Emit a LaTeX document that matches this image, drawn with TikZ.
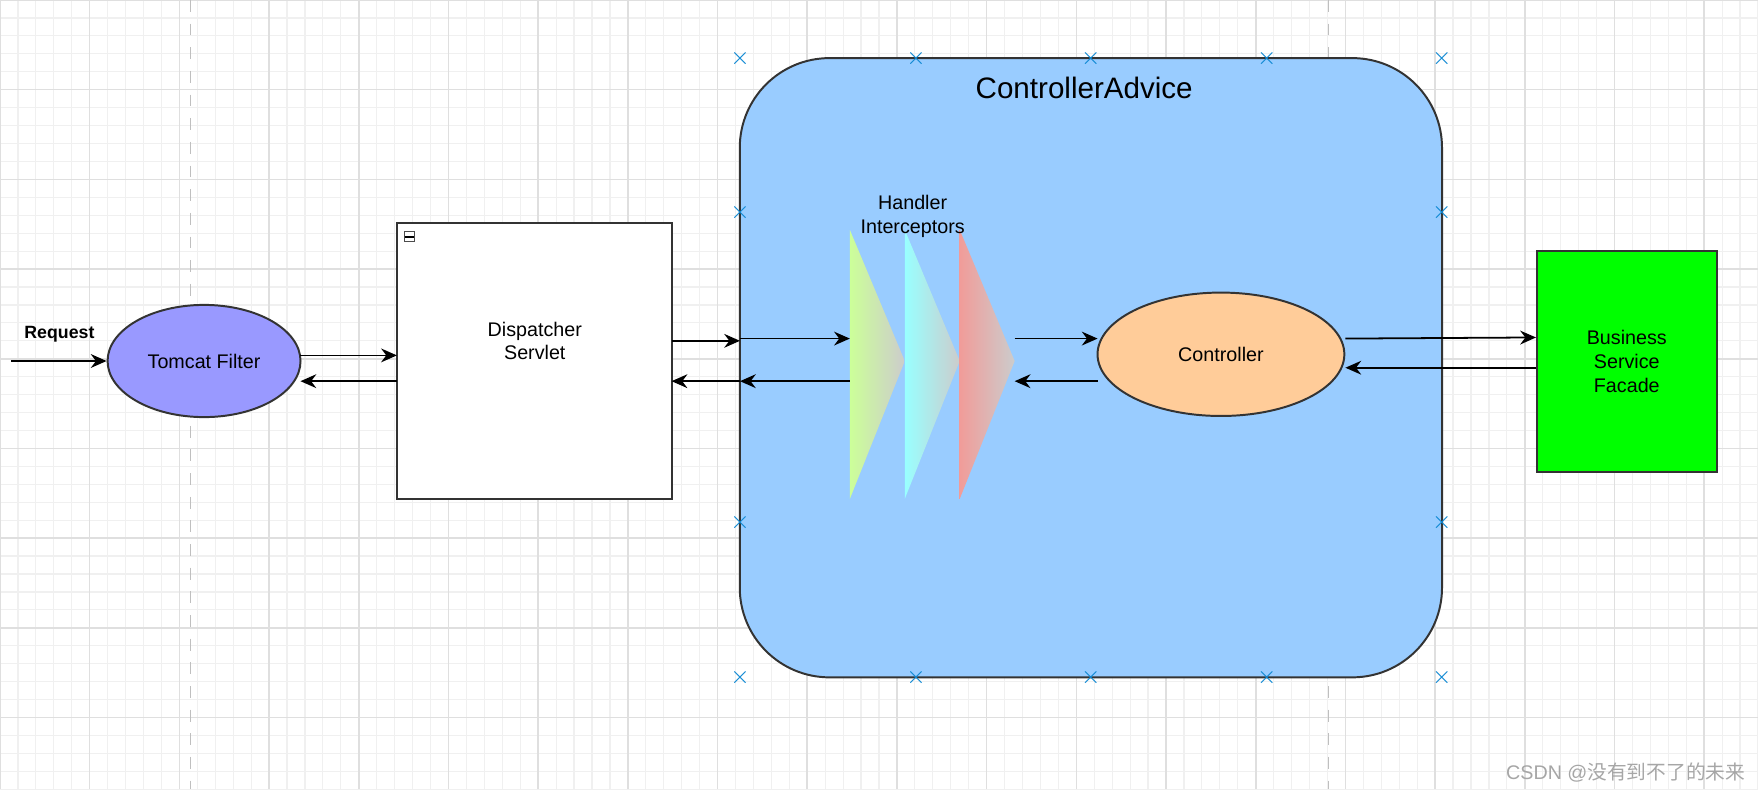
\documentclass[tikz,border=0pt]{standalone}
\usepackage{fontspec}
\setmainfont{Liberation Sans}
\newfontfamily\cjk{Noto Sans CJK SC}
\usetikzlibrary{shapes.geometric,arrows.meta}
\begin{document}
\begin{tikzpicture}[x=0.01cm,y=-0.01cm,
  arr/.style={-{Stealth[length=4pt,width=3.5pt]},line width=0.45pt},
  lbl/.style={font=\fontsize{5pt}{6pt}\selectfont,align=center},
  mk/.style={text=cyan!70!blue,font=\fontsize{4pt}{4pt}\selectfont}]
\useasboundingbox (0,0) rectangle (1568,704);
\fill[white] (0,0) rectangle (1568,704);
\foreach \x in {0,16,...,1568} \draw[gray!12,line width=0.3pt] (\x,0)--(\x,704);
\foreach \y in {0,16,...,704} \draw[gray!12,line width=0.3pt] (0,\y)--(1568,\y);
\foreach \x in {0,80,...,1568} \draw[gray!25,line width=0.4pt] (\x,0)--(\x,704);
\foreach \y in {0,80,...,704} \draw[gray!25,line width=0.4pt] (0,\y)--(1568,\y);
\draw[gray!50,dashed,line width=0.4pt] (170,0)--(170,704) (1185,0)--(1185,704);
% container
\node[draw=black!80,fill={rgb,255:red,153;green,204;blue,255},rounded corners=0.8cm,minimum width=6.26cm,minimum height=5.52cm,line width=0.5pt] (adv) at (973,328) {};
\node[font=\fontsize{7.5pt}{9pt}\selectfont] (advt) at (967,78) {ControllerAdvice};
\foreach \p in {(660,52),(817,52),(973,52),(1130,52),(1286,52),(660,604),(817,604),(973,604),(1130,604),(1286,604),(660,190),(660,466),(1286,190),(1286,466)} \node[mk] at \p {$\times$};
% nodes
\node[font=\fontsize{4.5pt}{5pt}\selectfont\bfseries] (req) at (53,298) {Request};
\coordinate (rs) at (10,322);
\node[ellipse,draw=black!80,fill={rgb,255:red,153;green,153;blue,255},minimum width=1.72cm,minimum height=1.0cm,inner sep=0pt,lbl,line width=0.5pt] (tf) at (182,322) {Tomcat Filter};
\node[draw=black!80,fill=white,minimum width=2.45cm,minimum height=2.46cm,line width=0.5pt] (ds) at (476.5,322) {};
\node[lbl] (dst) at (477,304) {Dispatcher\\Servlet};
\node[draw=black!70,fill=white,minimum size=0.09cm,inner sep=0pt,line width=0.3pt] (ic) at (365,211) {};
\draw[line width=0.5pt] (361,211)--(369,211);
\shade[left color={rgb,255:red,204;green,255;blue,153},right color=gray!40] (758,205)--(807,322)--(758,445)--cycle;
\shade[left color={rgb,255:red,153;green,255;blue,255},right color=gray!40] (807,205)--(856,322)--(807,445)--cycle;
\shade[left color={rgb,255:red,241;green,156;blue,153},right color=gray!40] (856,205)--(905,322)--(856,445)--cycle;
\node[lbl] (hi) at (814,193) {Handler\\Interceptors};
\node[ellipse,draw=black!80,fill={rgb,255:red,255;green,204;blue,153},minimum width=2.2cm,minimum height=1.1cm,inner sep=0pt,lbl,line width=0.5pt] (ct) at (1089,316) {Controller};
\node[draw=black!80,fill={rgb,255:red,0;green,255;blue,0},minimum width=1.6cm,minimum height=1.97cm,lbl,line width=0.5pt] (bs) at (1451,322.5) {Business\\Service\\Facade};
\node[text=gray!70,font=\fontsize{5pt}{6pt}\selectfont] (wm) at (1450,689) {CSDN @{\cjk 没有到不了的未来}};
% connectors
\coordinate (a1) at (660,304); \coordinate (a2) at (660,340);
\coordinate (i1) at (758,302); \coordinate (i2) at (758,340);
\coordinate (o1) at (905,302); \coordinate (o2) at (905,340);
\draw[arr] (rs)--(tf.west);
\draw[arr] (268,317)--(354,317);
\draw[arr] (354,340)--(268,340);
\draw[arr] (599,304)--(a1);
\draw[arr] (a2)--(599,340);
\draw[arr] (a1|-i1)--(i1);
\draw[arr] (i2)--(a2);
\draw[arr] (o1)--(979,302);
\draw[arr] (979,340)--(o2);
\draw[arr] (1200,302)--(1370,301);
\draw[arr] (1370,328)--(1200,328);
\end{tikzpicture}
\end{document}
